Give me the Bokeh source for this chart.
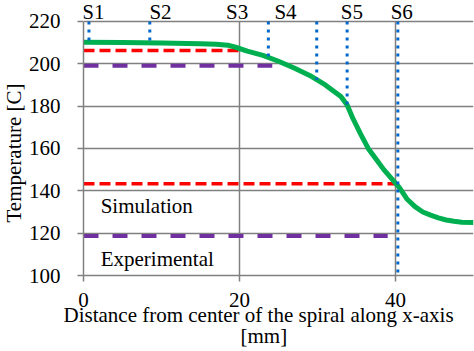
from bokeh.plotting import figure
from bokeh.models import FixedTicker, Range1d, Title, Label
from bokeh.embed import file_html
from bokeh.resources import INLINE

# --- data ---
dist_mm = [0, 5, 10, 15, 17, 18.5, 19.5, 21, 23, 25, 27, 29, 31, 33, 33.8,
           34.5, 35.5, 36.5, 37.5, 38.5, 39.5, 40.5, 41.5, 42.5, 43.5, 44.5,
           45.5, 46.5, 47.5, 48.5, 50]
temp_c = [210.2, 210.0, 209.8, 209.5, 209.2, 208.8, 207.8, 206.0, 204.0, 201.2,
          198.0, 194.5, 190.0, 184.5, 180.5, 174.5, 167.0, 160.0, 155.0, 150.0,
          145.8, 141.5, 136.0, 132.5, 130.0, 128.5, 127.2, 126.2, 125.6, 125.2, 125.0]

sensor_names = ["S1", "S2", "S3", "S4", "S5", "S6"]
sensor_label_x = [1.26, 9.87, 19.7, 25.9, 34.4, 40.8]

probe_x = [0.7, 8.5, 23.7, 29.9, 33.8, 40.3]
probe_bottom = [210.2, 209.8, 203.4, 192.5, 180.0, 100.0]
probe_top = [220, 220, 220, 220, 220, 220]

sim_levels = [206.3, 143.3]
sim_start = [0, 0]
sim_end = [20.8, 40.0]
exp_levels = [199.1, 118.6]
exp_start = [0, 0]
exp_end = [24.2, 39.0]

note_texts = ["Simulation", "Experimental"]
note_x = [2.2, 2.2]
note_y = [132.9, 108.0]

x_ticks = [0, 20, 40]
y_ticks = [100, 120, 140, 160, 180, 200, 220]
y_min, y_max = 100, 220

FONT = "Liberation Serif"
GRID = "#808080"

# frame runs to the top edge; the room above 220 holds the sensor names
p = figure(width=474, height=351, output_backend="svg", toolbar_location=None,
           x_range=Range1d(0, 50), y_range=Range1d(y_min, y_max + 9.88),
           min_border_left=83, min_border_right=1, min_border_top=0,
           min_border_bottom=75)
p.outline_line_color = None
p.background_fill_color = "white"
p.border_fill_color = "white"

p.axis.axis_line_color = GRID
p.axis.axis_line_width = 1.5
p.axis.major_tick_line_color = GRID
p.axis.major_tick_line_width = 1.5
p.axis.major_tick_in = 0
p.axis.major_tick_out = 6
p.axis.minor_tick_line_color = None
p.axis.major_label_text_font = FONT
p.axis.major_label_text_font_size = "21px"
p.axis.major_label_text_color = "black"

p.xaxis.ticker = FixedTicker(ticks=x_ticks)
p.yaxis.ticker = FixedTicker(ticks=y_ticks)
p.yaxis.bounds = (y_min, y_max)
p.xaxis.major_label_standoff = 11
p.yaxis.major_label_standoff = 17

p.xgrid.grid_line_color = GRID
p.xgrid.grid_line_width = 1.5
p.ygrid.grid_line_color = GRID
p.ygrid.grid_line_width = 1.5
if "cross_bounds" in p.xgrid[0].properties():
    p.xgrid.cross_bounds = (y_min, y_max)

# dashed reference levels
p.segment(x0=sim_start, y0=sim_levels, x1=sim_end, y1=sim_levels,
          line_color="#ff0000", line_width=3.5, line_dash="11 5")
p.segment(x0=exp_start, y0=exp_levels, x1=exp_end, y1=exp_levels,
          line_color="#7030a0", line_width=4, line_dash="15 14")

# temperature curve
p.line(dist_mm, temp_c, line_color="#00b050", line_width=5)

# sensor probes
p.segment(x0=probe_x, y0=probe_top, x1=probe_x, y1=probe_bottom,
          line_color="#0068c8", line_width=3, line_dash="3 5")

for name, sx in zip(sensor_names, sensor_label_x):
    p.add_layout(Label(x=sx, y=y_max, y_offset=9, text=name, text_font=FONT,
                       text_font_size="21px", text_color="black",
                       text_align="center", text_baseline="middle"))

for t, tx, ty in zip(note_texts, note_x, note_y):
    p.add_layout(Label(x=tx, y=ty, text=t, text_font=FONT,
                       text_font_size="21px", text_color="black",
                       text_align="left", text_baseline="middle"))

# y-axis title
ty_title = Title(text="Temperature [C]", align="left", offset=53, standoff=-2,
                 vertical_align="middle", text_font=FONT, text_font_size="21px",
                 text_font_style="normal", text_color="black")
p.add_layout(ty_title, "left")

# x-axis title, two lines
t1 = Title(text="Distance from center of the spiral along x-axis", align="left",
           offset=-20, standoff=-13, vertical_align="top", text_font=FONT,
           text_font_size="21px", text_font_style="normal", text_color="black")
t2 = Title(text="[mm]", align="left", offset=157, standoff=3, vertical_align="top",
           text_font=FONT, text_font_size="21px", text_font_style="normal",
           text_color="black")
p.add_layout(t1, "below")
p.add_layout(t2, "below")

open("out.html", "w").write(file_html(p, INLINE))
